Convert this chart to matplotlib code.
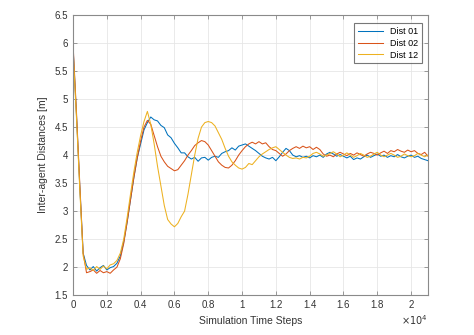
import numpy as np
import matplotlib
matplotlib.use('agg')
import matplotlib.pyplot as plt

plt.rcParams['font.family'] = ['Liberation Sans', 'DejaVu Sans']

# time steps (sampled every 200 steps)
steps = np.arange(0, 21001, 200)

dist01 = [5.95, 4.75, 3.45, 2.25, 2.03, 1.95, 2.01, 1.93, 1.99, 2.03,
          1.95, 1.99, 2.01, 2.07, 2.20, 2.45, 2.80, 3.20, 3.60, 3.95,
          4.20, 4.45, 4.58, 4.68, 4.63, 4.61, 4.53, 4.49, 4.36, 4.31,
          4.21, 4.13, 4.04, 4.04, 3.97, 3.93, 3.96, 3.89, 3.95, 3.96,
          3.91, 3.96, 3.98, 3.96, 4.03, 4.06, 4.08, 4.13, 4.09, 4.16,
          4.18, 4.20, 4.16, 4.12, 4.08, 4.03, 3.98, 3.95, 3.93, 3.96,
          3.90, 3.97, 4.05, 4.12, 4.08, 4.00, 3.97, 3.99, 3.96, 3.98,
          3.95, 3.99, 3.97, 4.00, 3.96, 4.02, 4.05, 4.02, 3.98, 4.01,
          3.98, 3.95, 3.98, 3.92, 3.95, 3.93, 3.97, 4.00, 3.96, 3.99,
          4.02, 3.98, 4.00, 3.96, 3.99, 3.97, 4.01, 3.97, 3.95, 3.98,
          4.00, 3.96, 3.98, 3.94, 3.92, 3.90]

dist02 = [6.00, 4.80, 3.50, 2.25, 1.90, 1.92, 1.95, 1.89, 1.94, 1.90,
          1.92, 1.89, 1.95, 2.00, 2.15, 2.42, 2.80, 3.20, 3.60, 3.95,
          4.25, 4.50, 4.62, 4.55, 4.35, 4.15, 3.98, 3.88, 3.80, 3.76,
          3.72, 3.74, 3.82, 3.90, 4.00, 4.08, 4.17, 4.22, 4.26, 4.24,
          4.18, 4.08, 3.98, 3.88, 3.82, 3.78, 3.77, 3.82, 3.90, 4.00,
          4.08, 4.15, 4.20, 4.23, 4.20, 4.24, 4.20, 4.22, 4.15, 4.10,
          4.08, 4.03, 3.98, 4.02, 4.08, 4.12, 4.15, 4.12, 4.16, 4.13,
          4.15, 4.10, 4.14, 4.10, 4.02, 3.98, 4.00, 3.97, 4.02, 4.05,
          4.02, 3.99, 4.03, 4.00, 4.04, 4.01, 3.98, 4.02, 4.05, 4.03,
          4.00, 4.04, 4.07, 4.03, 4.08, 4.06, 4.10, 4.07, 4.05, 4.09,
          4.06, 4.08, 4.03, 4.01, 4.05, 3.98]

dist12 = [5.90, 4.70, 3.40, 2.20, 1.96, 1.99, 1.94, 2.01, 1.96, 2.02,
          1.97, 2.04, 2.06, 2.12, 2.25, 2.50, 2.88, 3.30, 3.70, 4.05,
          4.35, 4.60, 4.78, 4.55, 4.20, 3.80, 3.45, 3.10, 2.85, 2.77,
          2.72, 2.78, 2.90, 3.00, 3.30, 3.65, 4.00, 4.30, 4.50, 4.58,
          4.60, 4.58, 4.52, 4.40, 4.28, 4.12, 3.98, 3.88, 3.82, 3.77,
          3.75, 3.78, 3.85, 3.83, 3.90, 3.97, 4.02, 4.06, 4.10, 4.13,
          4.15, 4.10, 4.05, 4.00, 3.96, 3.94, 3.95, 3.93, 3.96, 3.95,
          3.98, 4.03, 4.05, 4.02, 3.98, 4.00, 4.03, 4.06, 4.02, 3.97,
          4.00, 4.04, 4.00, 3.96, 3.99, 4.03, 4.00, 3.96, 3.98, 4.02,
          4.05, 4.00, 3.97, 4.00, 4.03, 4.00, 3.96, 3.98, 4.02, 3.99,
          3.97, 3.99, 4.03, 4.00, 3.97, 4.00]

labels = ['Dist 01', 'Dist 02', 'Dist 12']
colors = ['#0072BD', '#D95319', '#EDB120']


def plot_distances():
    fig = plt.figure(figsize=(4.74, 3.35), dpi=100)
    ax = fig.add_axes([0.154, 0.119, 0.749, 0.836])

    for d, lab, c in zip([dist01, dist02, dist12], labels, colors):
        ax.plot(steps, d, color=c, lw=0.75, label=lab)

    ax.set_xlim(0, 21000)
    ax.set_ylim(1.5, 6.5)
    xt = np.arange(0, 20001, 2000)
    ax.set_xticks(xt)
    ax.set_xticklabels(['0'] + ['%g' % (v / 1e4) for v in xt[1:]])
    yt = np.arange(1.5, 6.51, 0.5)
    ax.set_yticks(yt)
    ax.set_yticklabels(['%g' % v for v in yt])

    ax.grid(True, color='#e6e6e6', lw=0.6)
    ax.set_axisbelow(True)
    for s in ax.spines.values():
        s.set_color('#8a8a8a')
        s.set_linewidth(0.8)
    ax.tick_params(direction='in', length=3, width=0.6, colors='#8a8a8a',
                   labelcolor='#333333', labelsize=7, top=True, right=True)

    ax.set_xlabel('Simulation Time Steps', fontsize=7.5, color='#333333', labelpad=4)
    ax.set_ylabel('Inter-agent Distances [m]', fontsize=7.5, color='#333333', labelpad=5)
    ax.text(1.0, -0.065, r'$\times10^4$', transform=ax.transAxes, ha='right', va='top',
            fontsize=7, color='#333333')

    leg = ax.legend(loc='upper right', fontsize=6.5, frameon=True, fancybox=False,
                    handlelength=2.8, borderpad=0.4, labelspacing=0.3,
                    borderaxespad=0, bbox_to_anchor=(0.983, 0.97))
    leg.get_frame().set_edgecolor('#555555')
    leg.get_frame().set_linewidth(0.8)

    fig.savefig('out.png', dpi=100)


if __name__ == "__main__":
    plot_distances()
